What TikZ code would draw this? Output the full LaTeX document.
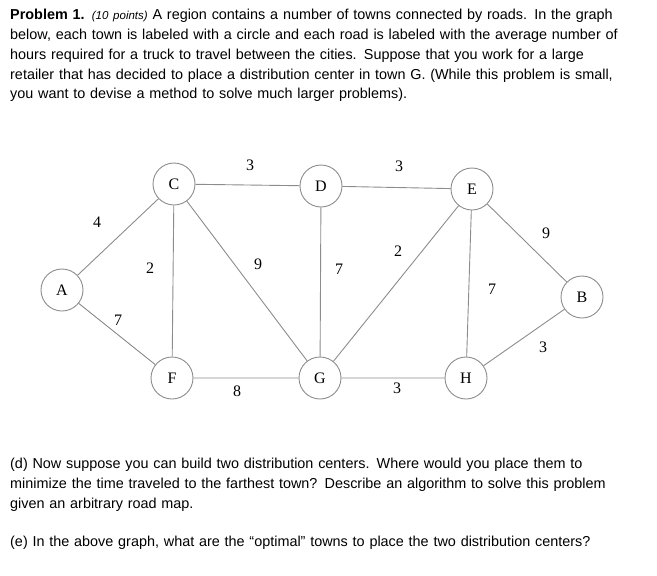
\documentclass[tikz,border=0pt]{standalone}
\usepackage{fontspec}
\setmainfont{Liberation Sans}
\newfontfamily\serifnum{Liberation Serif}
\begin{document}
\begin{tikzpicture}[x=1pt,y=-1pt,
  town/.style={circle,draw=black!45,line width=0.9pt,minimum size=42pt,inner sep=0pt,font=\serifnum\fontsize{16}{16}\selectfont},
  road/.style={draw=black!45,line width=0.9pt},
  w/.style={font=\serifnum\fontsize{16}{16}\selectfont},
  para/.style={anchor=north west,align=left,text width=645pt,inner sep=0pt,font=\fontsize{14.4}{19.8}\selectfont}]
\useasboundingbox (0,0) rectangle (657,576);
\node[para] (p1) at (10,9) {\textbf{Problem 1.} {\fontsize{11.5}{10}\selectfont\itshape(10 points)} A region contains a number of towns connected by roads. In the graph\\ below, each town is labeled with a circle and each road is labeled with the average number of\\ hours required for a truck to travel between the cities. Suppose that you work for a large\\ retailer that has decided to place a distribution center in town G. (While this problem is small,\\ you want to devise a method to solve much larger problems).};
\node[town] (C) at (174,184) {C};
\node[town] (D) at (321,186) {D};
\node[town] (E) at (472,189) {E};
\node[town] (A) at (62,290) {A};
\node[town] (B) at (582,297) {B};
\node[town] (F) at (172,378) {F};
\node[town] (G) at (320,378) {G};
\node[town] (H) at (466,378) {H};
\draw[road] (A) -- (C) (A) -- (F) (C) -- (D) (D) -- (E) (C) -- (F) (C) -- (G) (D) -- (G) (G) -- (E) (E) -- (H) (E) -- (B) (H) -- (B) (F) -- (G) (G) -- (H);
\node[w] (l1) at (97,222) {4};
\node[w] (l2) at (118,320) {7};
\node[w] (l3) at (150,268) {2};
\node[w] (l4) at (237,391) {8};
\node[w] (l5) at (258,264) {9};
\node[w] (l6) at (339,269) {7};
\node[w] (l7) at (398,251) {2};
\node[w] (l8) at (250,165) {3};
\node[w] (l9) at (399,166) {3};
\node[w] (l10) at (546,233) {9};
\node[w] (l11) at (492,289) {7};
\node[w] (l12) at (543,347) {3};
\node[w] (l13) at (397,388) {3};
\node[para] (p2) at (10,458) {(d) Now suppose you can build two distribution centers. Where would you place them to\\ minimize the time traveled to the farthest town? Describe an algorithm to solve this problem\\ given an arbitrary road map.};
\node[para] (p3) at (10,536) {(e) In the above graph, what are the ``optimal'' towns to place the two distribution centers?};
\end{tikzpicture}
\end{document}
